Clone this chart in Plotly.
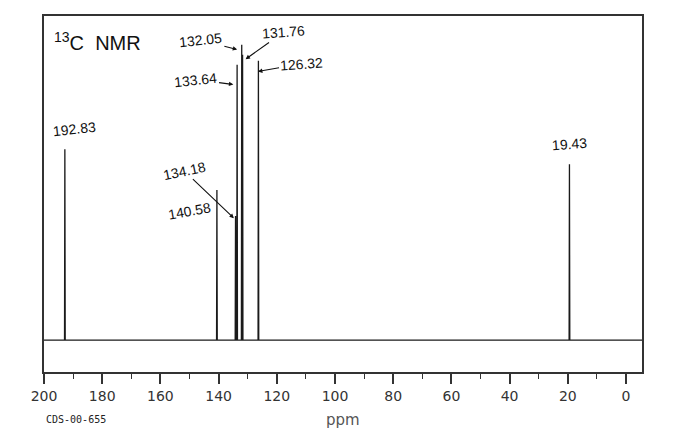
import plotly.graph_objects as go

# Peak positions (ppm) and heights (arbitrary intensity, baseline = 0)
peak_ppm = [192.83, 140.58, 134.18, 133.64, 132.05, 131.76, 126.32, 19.43]
peak_int = [192, 151, 125, 277, 297, 287, 281, 177]
peak_labels = ["192.83", "140.58", "134.18", "133.64", "132.05", "131.76", "126.32", "19.43"]

# label text positions (ppm, intensity) and arrow heads (None = no arrow)
label_pos = [(189.6, 212), (150.0, 130), (151.7, 170), (147.9, 262),
             (146.2, 302), (117.6, 310), (111.4, 278), (19.3, 197)]
arrow_head = [None, None, (134.5, 122), (134.6, 257), (133.3, 292),
              (131.0, 282), (126.8, 270), None]
label_tilt = [-6, -10, -12, -6, -6, -4, -4, -4]

tick_vals = [200, 180, 160, 140, 120, 100, 80, 60, 40, 20, 0]
x_range = [200, -5.5]
y_range = [-32, 326]

# build the spectrum trace: baseline with narrow sticks at each peak
half_w = 0.12
xs, ys = [x_range[0]], [0]
for p, h in sorted(zip(peak_ppm, peak_int), key=lambda t: -t[0]):
    xs += [p + half_w, p, p - half_w]
    ys += [0, h, 0]
xs.append(x_range[1])
ys.append(0)

fig = go.Figure()
fig.add_trace(go.Scatter(x=xs, y=ys, mode="lines",
                         line=dict(color="#1a1a1a", width=1.3),
                         hoverinfo="skip", showlegend=False))

hand_font = dict(family="Liberation Sans, Arial, sans-serif", size=14, color="#111")
for lab, (tx, ty), head, tilt in zip(peak_labels, label_pos, arrow_head, label_tilt):
    if head is None:
        fig.add_annotation(x=tx, y=ty, text=lab, showarrow=False,
                           font=hand_font, textangle=tilt)
    else:
        fig.add_annotation(x=head[0], y=head[1], ax=tx, ay=ty,
                           axref="x", ayref="y", xref="x", yref="y",
                           text=lab, showarrow=True, arrowhead=2,
                           arrowsize=0.8, arrowwidth=1.1, arrowcolor="#111",
                           font=hand_font, textangle=tilt, standoff=1)

fig.add_annotation(x=181.6, y=300, text="<sup>13</sup>C  NMR", showarrow=False,
                   font=dict(family="Liberation Sans, Arial, sans-serif", size=20, color="#111"))

fig.add_annotation(xref="paper", yref="paper", x=0.5, y=-0.134, text="ppm",
                   showarrow=False, xanchor="center", yanchor="middle",
                   font=dict(family="DejaVu Sans, sans-serif", size=15, color="#555"))
fig.add_annotation(xref="paper", yref="paper", x=0.0, y=-0.134, text="CDS-00-655",
                   showarrow=False, xanchor="left", yanchor="middle",
                   font=dict(family="DejaVu Sans Mono, monospace", size=10, color="#222"))

fig.update_xaxes(range=x_range, tickvals=tick_vals, ticks="outside", ticklen=10,
                 tickwidth=1.5, tickcolor="#333", showline=True, linecolor="#333",
                 linewidth=1.5, mirror=True, showgrid=False, zeroline=False,
                 tickfont=dict(family="DejaVu Sans, sans-serif", size=14, color="#333"),
                 minor=dict(dtick=10, tick0=0, ticks="outside", ticklen=5, tickwidth=1.3,
                            tickcolor="#333", showgrid=False))
fig.update_yaxes(range=y_range, showticklabels=False, ticks="", showline=True,
                 linecolor="#333", linewidth=1.5, mirror=True, showgrid=False,
                 zeroline=False)

fig.update_layout(width=684, height=425, margin=dict(l=36, r=50, t=6, b=61),
                  plot_bgcolor="white", paper_bgcolor="white")

fig.write_html("out.html")
